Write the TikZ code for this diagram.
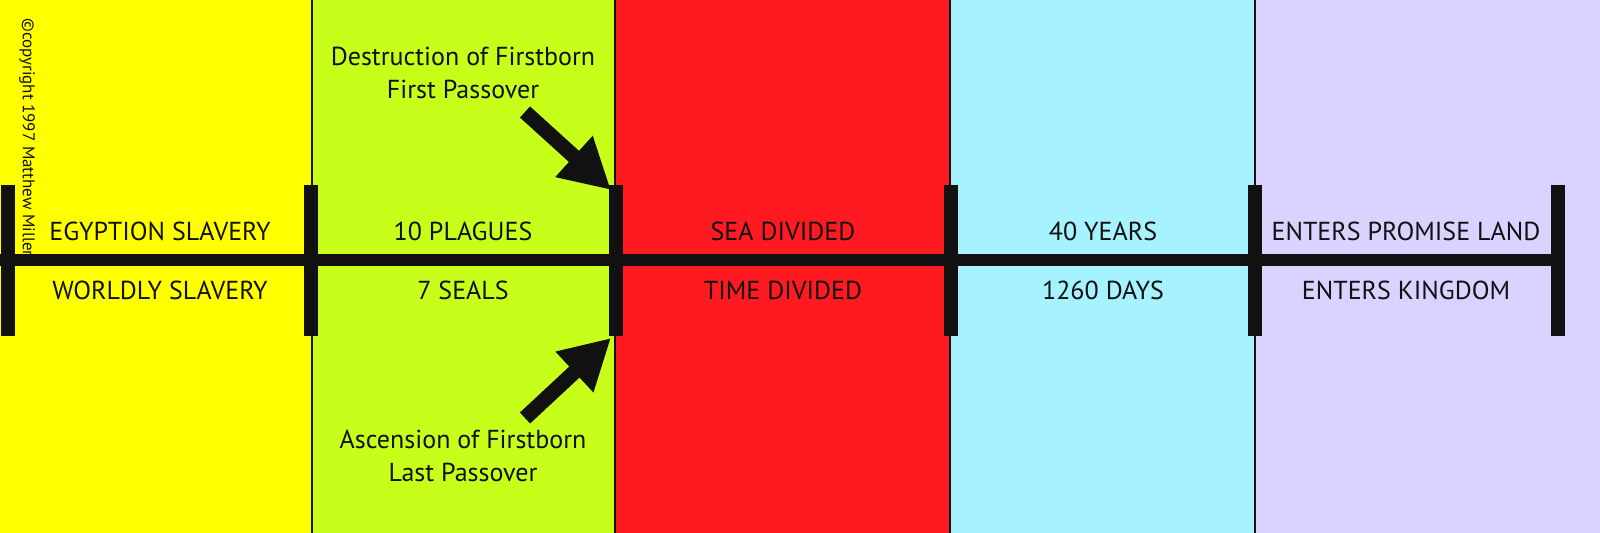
\documentclass[tikz,border=0pt]{standalone}
\usepackage{fontspec}
\setmainfont{PT Sans}
\usetikzlibrary{arrows.meta}
\definecolor{cY}{HTML}{FFFF00}
\definecolor{cG}{HTML}{C8FF1A}
\definecolor{cR}{HTML}{FF1A22}
\definecolor{cC}{HTML}{A6F2FF}
\definecolor{cL}{HTML}{DAD2FF}
\definecolor{ink}{HTML}{111111}
\begin{document}
\begin{tikzpicture}[x=0.5pt,y=-0.5pt,
  band/.style={draw=ink,line width=0.6pt},
  tick/.style={line width=7pt,draw=ink},
  lab/.style={font=\fontsize{13}{14}\selectfont,text=ink,inner sep=0pt},
  note/.style={font=\fontsize{13}{16.5}\selectfont,text=ink,align=center,inner sep=0pt},
  bigarrow/.style={draw=ink,line width=7.5pt,-{Triangle[length=25pt,width=26pt]}}]
\useasboundingbox (0,0) rectangle (1600,533);
\fill[cY] (0,0) rectangle (312,533);
\filldraw[fill=cG,band] (312,-2) rectangle (615,535);
\filldraw[fill=cR,band] (615,-2) rectangle (950,535);
\filldraw[fill=cC,band] (950,-2) rectangle (1255,535);
\filldraw[fill=cL,band] (1255,-2) rectangle (1602,535);
\coordinate (L) at (0,260); \coordinate (R) at (1565,260);
\draw[line width=6pt,draw=ink] (L) -- (R);
\foreach \x in {8,311,616,951,1255,1558}{
  \draw[tick] (\x,185) -- (\x,336);}
\node[lab] (t1) at (160,231) {EGYPTION SLAVERY};
\node[lab] (b1) at (160,290) {WORLDLY SLAVERY};
\node[lab] (t2) at (463,231) {10 PLAGUES};
\node[lab] (b2) at (463,290) {7 SEALS};
\node[lab] (t3) at (783,231) {SEA DIVIDED};
\node[lab] (b3) at (783,290) {TIME DIVIDED};
\node[lab] (t4) at (1103,231) {40 YEARS};
\node[lab] (b4) at (1103,290) {1260 DAYS};
\node[lab] (t5) at (1406,231) {ENTERS PROMISE LAND};
\node[lab] (b5) at (1406,290) {ENTERS KINGDOM};
\node[note] (n1) at (463,73) {Destruction of Firstborn\\First Passover};
\node[note] (n2) at (463,456) {Ascension of Firstborn\\Last Passover};
\coordinate (a1s) at (525,112); \coordinate (a1e) at (611,190);
\coordinate (a2s) at (525,418); \coordinate (a2e) at (611,338);
\draw[bigarrow] (a1s) -- (a1e);
\draw[bigarrow] (a2s) -- (a2e);
\node[font=\fontsize{8.5}{9}\selectfont,text=ink,rotate=-90,anchor=west,inner sep=0pt] (cp) at (27,18) {©copyright 1997 Matthew Miller};
\end{tikzpicture}
\end{document}
